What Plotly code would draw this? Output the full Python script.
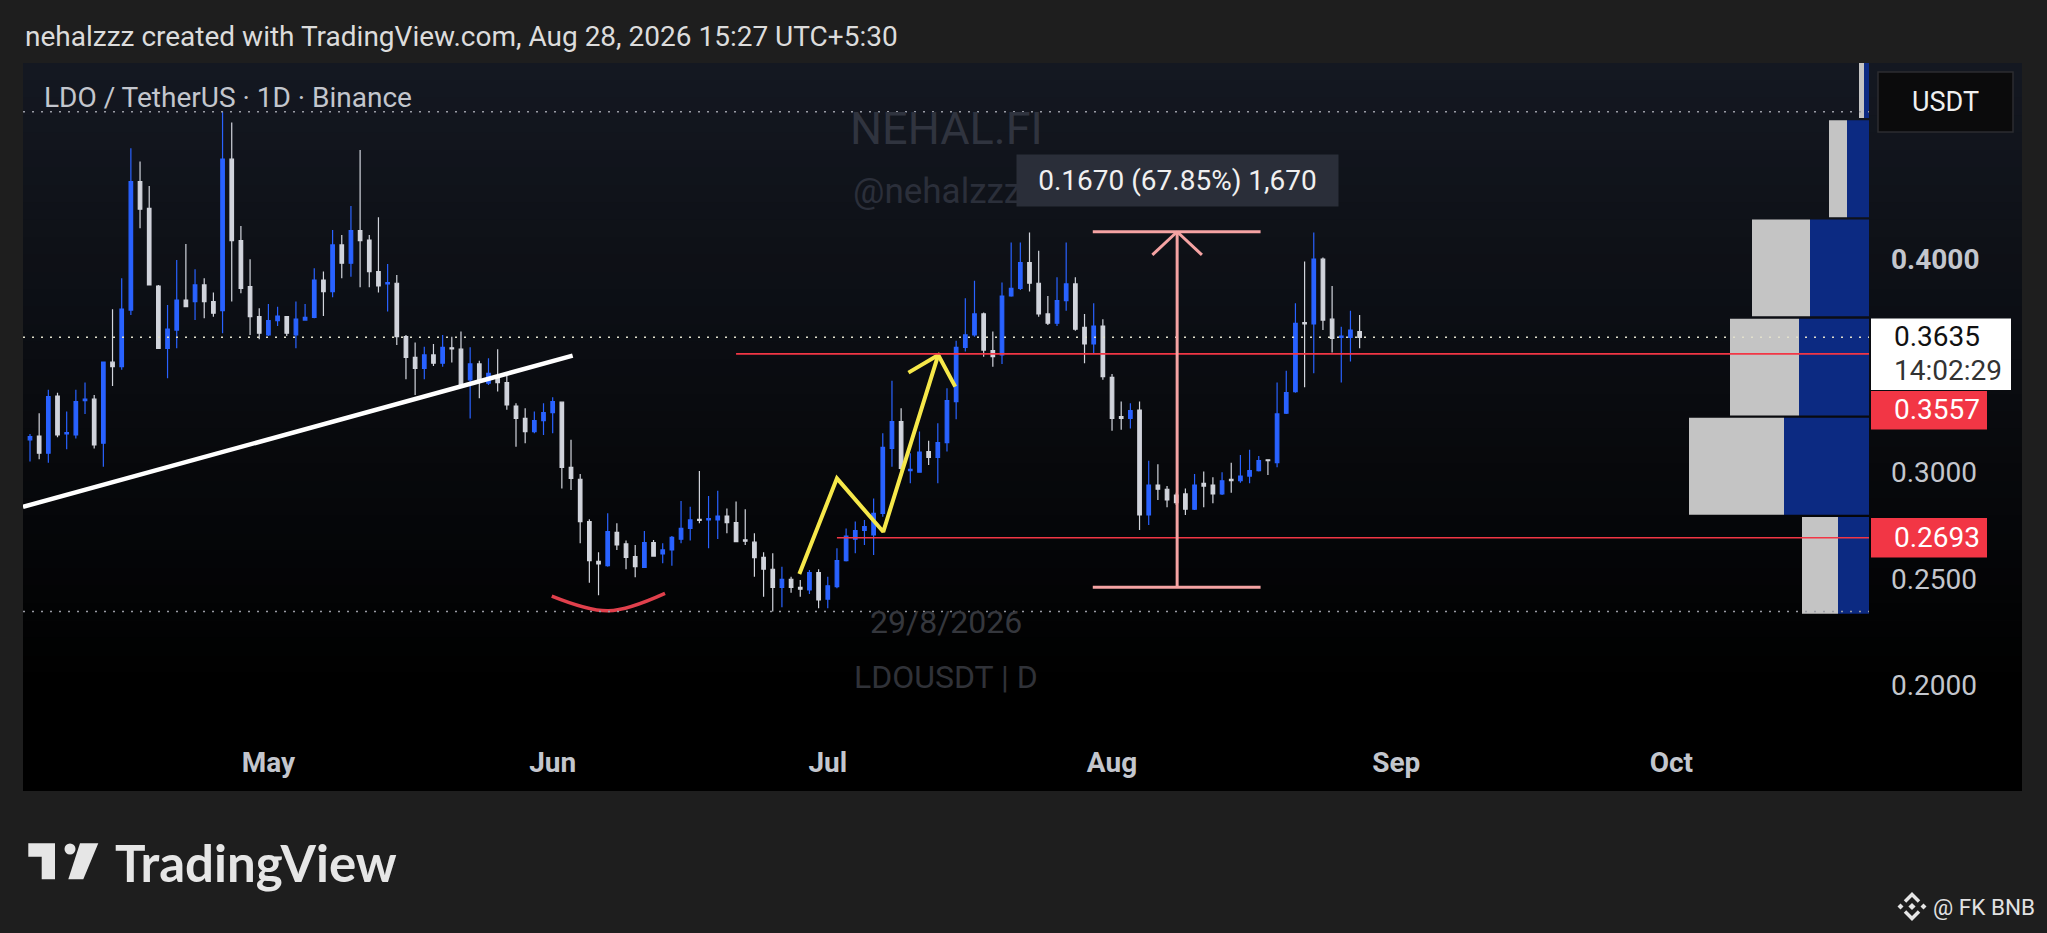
import pandas as pd
import plotly.graph_objects as go

# ---------------- data ----------------
dates = pd.date_range("2026-04-05", periods=146, freq="D")

opens = [0.3153, 0.3171, 0.3090, 0.3359, 0.3181, 0.3176, 0.3337, 0.3344, 0.3137, 0.3518,
         0.3497, 0.3763, 0.4367, 0.4241, 0.3876, 0.3583, 0.3669, 0.3810, 0.3803, 0.3881,
         0.3803, 0.3760, 0.4472, 0.4089, 0.3873, 0.3732, 0.3646, 0.3713, 0.3732, 0.3646,
         0.3716, 0.3729, 0.3904, 0.3850, 0.4069, 0.3983, 0.4136, 0.4092, 0.3944, 0.3886,
         0.3889, 0.3638, 0.3541, 0.3489, 0.3552, 0.3513, 0.3586, 0.3579, 0.3435, 0.3510,
         0.3419, 0.3447, 0.3422, 0.3312, 0.3254, 0.3192, 0.3243, 0.3281, 0.3330, 0.3024,
         0.2968, 0.2769, 0.2582, 0.2562, 0.2718, 0.2664, 0.2604, 0.2554, 0.2670, 0.2617,
         0.2636, 0.2686, 0.2737, 0.2780, 0.2777, 0.2777, 0.2795, 0.2764, 0.2683, 0.2672,
         0.2601, 0.2545, 0.2460, 0.2498, 0.2460, 0.2448, 0.2529, 0.2404, 0.2463, 0.2586,
         0.2686, 0.2727, 0.2706, 0.2808, 0.3113, 0.3239, 0.3008, 0.3001, 0.3098, 0.3071,
         0.3140, 0.3333, 0.3588, 0.3646, 0.3745, 0.3572, 0.3552, 0.3829, 0.3865, 0.3986,
         0.3889, 0.3745, 0.3701, 0.3807, 0.3886, 0.3682, 0.3604, 0.3688, 0.3447, 0.3262,
         0.3254, 0.3293, 0.2800, 0.2941, 0.2921, 0.2894, 0.2899, 0.2827, 0.2949, 0.2941,
         0.2899, 0.2968, 0.2961, 0.2983, 0.3008, 0.3059, 0.3046, 0.3278, 0.3380, 0.3704,
         0.3698, 0.4002, 0.3720, 0.3635, 0.3635, 0.3662]
highs = [0.3181, 0.3278, 0.3388, 0.3375, 0.3286, 0.3388, 0.3422, 0.3364, 0.3521, 0.3767,
         0.3912, 0.4523, 0.4461, 0.4346, 0.3881, 0.3787, 0.3998, 0.4074, 0.3955, 0.3912,
         0.3845, 0.4695, 0.4644, 0.4158, 0.4002, 0.3771, 0.3792, 0.3779, 0.3735, 0.3803,
         0.3792, 0.3959, 0.3944, 0.4139, 0.4116, 0.4252, 0.4515, 0.4116, 0.4199, 0.3980,
         0.3928, 0.3646, 0.3610, 0.3591, 0.3604, 0.3646, 0.3638, 0.3662, 0.3588, 0.3525,
         0.3536, 0.3579, 0.3453, 0.3325, 0.3301, 0.3286, 0.3325, 0.3353, 0.3333, 0.3153,
         0.2993, 0.2780, 0.2625, 0.2808, 0.2761, 0.2680, 0.2659, 0.2725, 0.2683, 0.2667,
         0.2701, 0.2866, 0.2839, 0.3007, 0.2889, 0.2914, 0.2831, 0.2863, 0.2827, 0.2714,
         0.2625, 0.2620, 0.2557, 0.2510, 0.2495, 0.2542, 0.2545, 0.2510, 0.2644, 0.2737,
         0.2769, 0.2777, 0.2878, 0.3184, 0.3431, 0.3301, 0.3090, 0.3192, 0.3149, 0.3231,
         0.3395, 0.3619, 0.3818, 0.3901, 0.3751, 0.3662, 0.3892, 0.4080, 0.4080, 0.4127,
         0.4042, 0.3829, 0.3917, 0.4080, 0.3917, 0.3745, 0.3795, 0.3720, 0.3463, 0.3333,
         0.3325, 0.3333, 0.3055, 0.3038, 0.2936, 0.2905, 0.2925, 0.2993, 0.3004, 0.2977,
         0.3001, 0.3046, 0.3082, 0.3106, 0.3077, 0.3062, 0.3422, 0.3478, 0.3795, 0.3991,
         0.4127, 0.4010, 0.3876, 0.3685, 0.3760, 0.3740]
lows = [0.3051, 0.3062, 0.3046, 0.3165, 0.3109, 0.3160, 0.3275, 0.3113, 0.3027, 0.3406,
        0.3482, 0.3740, 0.4147, 0.3878, 0.3580, 0.3442, 0.3583, 0.3776, 0.3716, 0.3724,
        0.3732, 0.3654, 0.3803, 0.3842, 0.3646, 0.3626, 0.3641, 0.3688, 0.3641, 0.3583,
        0.3713, 0.3724, 0.3735, 0.3823, 0.3912, 0.3920, 0.3870, 0.3870, 0.3845, 0.3756,
        0.3599, 0.3438, 0.3364, 0.3438, 0.3500, 0.3497, 0.3516, 0.3400, 0.3254, 0.3348,
        0.3411, 0.3380, 0.3294, 0.3121, 0.3137, 0.3184, 0.3176, 0.3184, 0.2925, 0.2918,
        0.2667, 0.2482, 0.2423, 0.2557, 0.2636, 0.2545, 0.2507, 0.2551, 0.2604, 0.2573,
        0.2562, 0.2667, 0.2680, 0.2761, 0.2644, 0.2687, 0.2714, 0.2672, 0.2659, 0.2510,
        0.2416, 0.2346, 0.2366, 0.2435, 0.2416, 0.2429, 0.2362, 0.2362, 0.2456, 0.2581,
        0.2620, 0.2659, 0.2612, 0.2792, 0.3027, 0.2996, 0.2949, 0.2998, 0.3035, 0.2949,
        0.3098, 0.3250, 0.3568, 0.3638, 0.3544, 0.3497, 0.3510, 0.3826, 0.3857, 0.3850,
        0.3732, 0.3693, 0.3688, 0.3760, 0.3666, 0.3513, 0.3560, 0.3435, 0.3196, 0.3200,
        0.3207, 0.2730, 0.2753, 0.2871, 0.2836, 0.2847, 0.2800, 0.2824, 0.2836, 0.2855,
        0.2894, 0.2905, 0.2952, 0.2949, 0.3004, 0.2988, 0.3024, 0.3275, 0.3375, 0.3400,
        0.3466, 0.3669, 0.3563, 0.3422, 0.3521, 0.3583]
closes = [0.3168, 0.3090, 0.3356, 0.3176, 0.3187, 0.3333, 0.3344, 0.3129, 0.3518, 0.3497,
          0.3768, 0.4367, 0.4237, 0.3881, 0.3583, 0.3673, 0.3810, 0.3779, 0.3881, 0.3803,
          0.3748, 0.4472, 0.4089, 0.3865, 0.3732, 0.3654, 0.3713, 0.3735, 0.3654, 0.3720,
          0.3729, 0.3904, 0.3850, 0.4069, 0.3983, 0.4136, 0.4089, 0.3944, 0.3876, 0.3892,
          0.3638, 0.3541, 0.3489, 0.3552, 0.3513, 0.3588, 0.3580, 0.3411, 0.3510, 0.3427,
          0.3466, 0.3422, 0.3317, 0.3254, 0.3192, 0.3243, 0.3281, 0.3333, 0.3024, 0.2972,
          0.2769, 0.2586, 0.2570, 0.2722, 0.2659, 0.2601, 0.2557, 0.2670, 0.2607, 0.2636,
          0.2695, 0.2737, 0.2777, 0.2774, 0.2783, 0.2795, 0.2764, 0.2675, 0.2677, 0.2600,
          0.2545, 0.2460, 0.2498, 0.2460, 0.2451, 0.2529, 0.2401, 0.2467, 0.2586, 0.2701,
          0.2727, 0.2745, 0.2808, 0.3118, 0.3239, 0.3019, 0.3015, 0.3095, 0.3071, 0.3140,
          0.3337, 0.3588, 0.3646, 0.3745, 0.3575, 0.3544, 0.3829, 0.3865, 0.3986, 0.3889,
          0.3745, 0.3701, 0.3807, 0.3886, 0.3673, 0.3604, 0.3688, 0.3450, 0.3254, 0.3254,
          0.3290, 0.2800, 0.2941, 0.2921, 0.2871, 0.2858, 0.2827, 0.2941, 0.2936, 0.2899,
          0.2961, 0.2961, 0.2983, 0.3008, 0.3055, 0.3055, 0.3275, 0.3375, 0.3701, 0.3698,
          0.4002, 0.3716, 0.3630, 0.3641, 0.3669, 0.3635]

# visible-range volume profile (millions), bins of price
vp_price = [0.2563, 0.3029, 0.3495, 0.3961, 0.4427, 0.4893]
vp_up = [3.1, 8.5, 7.0, 5.9, 2.2, 0.5]
vp_down = [3.6, 9.5, 6.9, 5.8, 1.8, 0.5]

price_ticks = [0.20, 0.25, 0.30, 0.40]
price_tick_text = ["0.2000", "0.2500", "0.3000", "<b>0.4000</b>"]

# author drawings
level_upper, level_upper_from = 0.3557, "2026-06-21"
level_lower, level_lower_from = 0.2693, "2026-07-02"
trend_x = ["2026-04-04 05:41", "2026-06-03 04:19"]
trend_y = [0.2838, 0.3549]
zig_x = ["2026-06-27 21:36", "2026-07-02 00:00", "2026-07-07 01:12", "2026-07-13 01:12"]
zig_y = [0.2523, 0.2972, 0.2721, 0.3552]
zig_head_x = ["2026-07-09 19:12", "2026-07-13 01:12", "2026-07-14 21:36"]
zig_head_y = [0.3469, 0.3552, 0.3403]
arc_x = ["2026-05-31 21:36", "2026-06-07 01:41", "2026-06-13 06:00"]
arc_y = [0.2419, 0.2350, 0.2432]
measure_x = "2026-08-08 02:24"
measure_x0, measure_x1 = "2026-07-29 21:36", "2026-08-17 04:48"
measure_top, measure_bottom = 0.4131, 0.2461
measure_head_x = ["2026-08-05 09:36", "2026-08-08 02:24", "2026-08-10 19:12"]
measure_head_y = [0.4022, 0.4131, 0.4022]
measure_label = "0.1670 (67.85%) 1,670"
countdown = "14:02:29"

x_range = ["2026-04-04 05:41", "2026-10-22 13:12"]
y_range = [0.17567, 0.49240]

# ---------------- layout helpers (pixel -> paper) ----------------
L, T, W, H = 23, 63, 1846, 674
def PX(x):
    return (x - L) / W
def PY(y):
    return (T + H - y) / H

BLUE = "#2962FF"
GREY = "#d1d4dc"
PINK = "#f5a3a3"
RED = "#f23645"

fig = go.Figure()

fig.add_trace(go.Candlestick(
    x=dates, open=opens, high=highs, low=lows, close=closes,
    increasing=dict(line=dict(color=BLUE, width=1.2), fillcolor=BLUE),
    decreasing=dict(line=dict(color=GREY, width=1.2), fillcolor=GREY),
    whiskerwidth=0, hoverinfo="skip", showlegend=False))

# drawings above candles
fig.add_trace(go.Scatter(x=trend_x, y=trend_y, mode="lines",
                         line=dict(color="#ffffff", width=4.5), hoverinfo="skip"))
fig.add_trace(go.Scatter(x=arc_x, y=arc_y, mode="lines",
                         line=dict(color="#e0404c", width=3.5, shape="spline"), hoverinfo="skip"))
fig.add_trace(go.Scatter(x=zig_x, y=zig_y, mode="lines",
                         line=dict(color="#f6e84a", width=4), hoverinfo="skip"))
fig.add_trace(go.Scatter(x=zig_head_x, y=zig_head_y, mode="lines",
                         line=dict(color="#f6e84a", width=4), hoverinfo="skip"))

# volume profile on overlay axis
fig.add_trace(go.Bar(y=vp_price, x=vp_up, orientation="h", width=0.0455,
                     marker=dict(color="#0c2a82", line=dict(width=0)),
                     xaxis="x2", yaxis="y", hoverinfo="skip"))
fig.add_trace(go.Bar(y=vp_price, x=vp_down, base=vp_up, orientation="h", width=0.0455,
                     marker=dict(color="#c4c4c4", line=dict(width=0)),
                     xaxis="x2", yaxis="y", hoverinfo="skip"))

shapes = []
# gradient panel background
panel_top, grad_end, panel_bottom = 63, 690, 791
N = 36
step = (grad_end - panel_top) / N
for k in range(N):
    t = (k + 0.5) / N
    col = "rgb(%d,%d,%d)" % (round(20 * (1 - t)), round(24 * (1 - t)), round(33 * (1 - t)))
    shapes.append(dict(type="rect", xref="paper", yref="paper", layer="below",
                       x0=PX(23), x1=PX(2022), y0=PY(panel_top + (k + 1) * step + 0.5),
                       y1=PY(panel_top + k * step), fillcolor=col, line=dict(width=0)))
shapes.append(dict(type="rect", xref="paper", yref="paper", layer="below",
                   x0=PX(23), x1=PX(2022), y0=PY(panel_bottom), y1=PY(grad_end),
                   fillcolor="#000000", line=dict(width=0)))

# horizontal levels
dot = "2px,7px"
shapes += [
    dict(type="line", xref="x", yref="y", layer="above", x0=x_range[0], x1=x_range[1],
         y0=max(highs), y1=max(highs), line=dict(color="#9a9ca5", width=1.5, dash=dot)),
    dict(type="line", xref="x", yref="y", layer="above", x0=x_range[0], x1=x_range[1],
         y0=min(lows), y1=min(lows), line=dict(color="#9a9ca5", width=1.5, dash=dot)),
    dict(type="line", xref="x", yref="y", layer="above", x0=x_range[0], x1=x_range[1],
         y0=closes[-1], y1=closes[-1], line=dict(color="#e2e0cc", width=1.5, dash=dot)),
    dict(type="line", xref="x", yref="y", layer="above", x0=level_upper_from, x1=x_range[1],
         y0=level_upper, y1=level_upper, line=dict(color=RED, width=1.7)),
    dict(type="line", xref="x", yref="y", layer="above", x0=level_lower_from, x1=x_range[1],
         y0=level_lower, y1=level_lower, line=dict(color=RED, width=1.7)),
]
# measurement tool
shapes += [
    dict(type="line", xref="x", yref="y", layer="above", x0=measure_x, x1=measure_x,
         y0=measure_bottom, y1=measure_top, line=dict(color=PINK, width=3)),
    dict(type="line", xref="x", yref="y", layer="above", x0=measure_x0, x1=measure_x1,
         y0=measure_top, y1=measure_top, line=dict(color=PINK, width=3)),
    dict(type="line", xref="x", yref="y", layer="above", x0=measure_x0, x1=measure_x1,
         y0=measure_bottom, y1=measure_bottom, line=dict(color=PINK, width=3)),
    dict(type="line", xref="x", yref="y", layer="above", x0=measure_head_x[0], x1=measure_head_x[1],
         y0=measure_head_y[0], y1=measure_head_y[1], line=dict(color=PINK, width=3)),
    dict(type="line", xref="x", yref="y", layer="above", x0=measure_head_x[1], x1=measure_head_x[2],
         y0=measure_head_y[1], y1=measure_head_y[2], line=dict(color=PINK, width=3)),
]
# price-scale label boxes
def label_box(price, x1, top, bottom, color):
    return dict(type="rect", xref="paper", yref="y", layer="above",
                x0=PX(1871), x1=PX(x1), ysizemode="pixel", yanchor=price,
                y0=bottom, y1=top, fillcolor=color, line=dict(width=0))
shapes += [
    label_box(closes[-1], 2011, 18.8, -52.7, "#ffffff"),
    label_box(level_upper, 1987, -37, -75.5, RED),
    label_box(level_lower, 1987, 19.7, -19.8, RED),
]
# USDT button
shapes.append(dict(type="rect", xref="paper", yref="paper", layer="above",
                   x0=PX(1878), x1=PX(2013), y0=PY(132), y1=PY(72),
                   fillcolor="#0b0b0c", line=dict(color="#2c2d31", width=1.5)))

# TradingView logo icon
def path(pts):
    s = "M " + " L ".join("%f,%f" % (PX(a), PY(b)) for a, b in pts) + " Z"
    return s
LOGO = "#e6e6e6"
shapes += [
    dict(type="path", xref="paper", yref="paper", layer="above",
         path=path([(28.3, 843.3), (55, 843.3), (55, 879.3), (41.7, 879.3), (41.7, 856.7), (28.3, 856.7)]),
         fillcolor=LOGO, line=dict(width=0)),
    dict(type="circle", xref="paper", yref="paper", layer="above",
         x0=PX(64.5), x1=PX(75.5), y0=PY(854.5), y1=PY(843.5), fillcolor=LOGO, line=dict(width=0)),
    dict(type="path", xref="paper", yref="paper", layer="above",
         path=path([(80, 843.3), (98.3, 843.3), (83.3, 879.3), (68.3, 879.3)]),
         fillcolor=LOGO, line=dict(width=0)),
]
# Binance mark
def diamond(cx, cy, r):
    return path([(cx, cy - r), (cx + r, cy), (cx, cy + r), (cx - r, cy)])
BN = "#e6e6e6"
for cx, cy, r in [(1912, 906.5, 3.6), (1900.5, 906.5, 3.0), (1923.5, 906.5, 3.0)]:
    shapes.append(dict(type="path", xref="paper", yref="paper", layer="above",
                       path=diamond(cx, cy, r), fillcolor=BN, line=dict(width=0)))
for pts in [[(1905, 901.5), (1912, 894.5), (1919, 901.5)], [(1905, 911.5), (1912, 918.5), (1919, 911.5)]]:
    shapes.append(dict(type="path", xref="paper", yref="paper", layer="above",
                       path="M " + " L ".join("%f,%f" % (PX(a), PY(b)) for a, b in pts),
                       line=dict(color=BN, width=3.5)))

ann = []
def txt(text, x, y, size, color, xanchor="left", family="Roboto", weight=None, **kw):
    f = dict(family=family, size=size, color=color)
    if weight:
        f["weight"] = weight
    d = dict(text=text, xref="paper", yref="paper", x=PX(x), y=PY(y), xanchor=xanchor,
             yanchor="middle", showarrow=False, font=f)
    d.update(kw)
    return d

ann.append(txt("nehalzzz created with TradingView.com, Aug 28, 2026 15:27 UTC+5:30", 23, 36, 28, "#dcdcdc"))
ann.append(txt("LDO / TetherUS · 1D · Binance", 42, 98, 28, "#c3c6cd"))
# watermarks
ann.append(txt("NEHAL.FI", 946, 128, 45, "#30343f", xanchor="center"))
ann.append(txt("@nehalzzzz", 946, 191, 35, "#2b2f3a", xanchor="center"))
ann.append(txt("29/8/2026", 946, 622, 32, "#35373d", xanchor="center"))
ann.append(txt("LDOUSDT | D", 946, 677, 32, "#303238", xanchor="center"))
# measurement label
ann.append(dict(text=measure_label, x=measure_x, y=measure_top, xref="x", yref="y",
                yshift=51, showarrow=False, xanchor="center", yanchor="middle",
                bgcolor="#2a2e39", borderpad=9, width=303,
                font=dict(family="Roboto", size=28, color="#f0f0f0")))
# price labels
def plabel(text, price, shift, color):
    return dict(text=text, xref="paper", yref="y", x=PX(1892), y=price, yshift=shift,
                xanchor="left", yanchor="middle", showarrow=False,
                font=dict(family="Roboto", size=28, color=color))
ann += [
    plabel("%.4f" % closes[-1], closes[-1], 1, "#111111"),
    plabel(countdown, closes[-1], -33, "#333333"),
    plabel("%.4f" % level_upper, level_upper, -56, "#ffffff"),
    plabel("%.4f" % level_lower, level_lower, 0, "#ffffff"),
]
ann.append(txt("USDT", 1945, 102, 27, "#f0f0f0", xanchor="center"))
ann.append(txt("TradingView", 113, 862, 51, LOGO, family="Lato", weight="bold"))
ann.append(txt("@ FK BNB", 1931, 907, 22.5, "#e2e2e2"))

fig.update_layout(
    width=2047, height=933,
    margin=dict(l=L, r=2047 - L - W, t=T, b=933 - T - H, pad=0),
    paper_bgcolor="#1e1e1e", plot_bgcolor="rgba(0,0,0,0)",
    showlegend=False, barmode="overlay", boxgap=0.45,
    font=dict(family="Roboto"),
    xaxis=dict(type="date", range=x_range, tickformat="%b", dtick="M1", tick0="2026-05-01",
               showgrid=False, zeroline=False, showline=False, ticks="",
               tickfont=dict(family="Roboto", size=28, color="#c3c6cd", weight="bold"),
               ticklabelstandoff=6, rangeslider=dict(visible=False), fixedrange=True),
    xaxis2=dict(overlaying="x", range=[184.6, 0], visible=False, anchor="y", fixedrange=True),
    yaxis=dict(side="right", range=y_range, tickvals=price_ticks, ticktext=price_tick_text,
               showgrid=False, zeroline=False, showline=False, ticks="",
               tickfont=dict(family="Roboto", size=28, color="#c3c6cd"),
               ticklabelstandoff=21, fixedrange=True),
    shapes=shapes, annotations=ann,
)

fig.write_html("out.html", config={"displayModeBar": False},
               post_script="document.body.style.margin='0';document.body.style.padding='0';"
                           "document.body.style.background='#1e1e1e';")
